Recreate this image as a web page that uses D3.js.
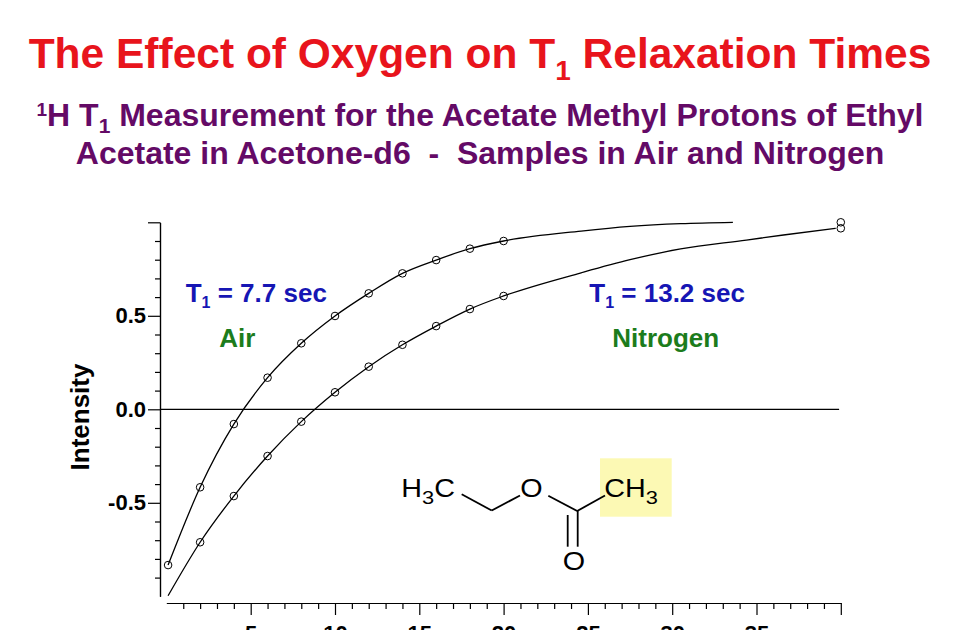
<!DOCTYPE html>
<html>
<head>
<meta charset="utf-8">
<script src="https://cdn.jsdelivr.net/npm/d3@7"></script>
<style>
    body { margin: 0; background: #fff; }
    svg { display: block; font-family: "Liberation Sans", Arial, Helvetica, sans-serif; }
    text { white-space: pre; }
</style>
</head>
<body>
<svg id="plot" width="960" height="630"></svg>
<script>
'use strict';

// measured points (time in seconds, normalised intensity)
const airTime = [0.1, 2, 4, 6, 8, 10, 12, 14, 16, 18, 20, 40];
const airIntensity = [-0.833, -0.417, -0.079, 0.169, 0.353, 0.499, 0.620, 0.727, 0.798, 0.859, 0.900, 1.0];
const nitrogenTime = [2, 4, 6, 8, 10, 12, 14, 16, 18, 20, 40];
const nitrogenIntensity = [-0.711, -0.464, -0.250, -0.066, 0.091, 0.228, 0.345, 0.445, 0.536, 0.606, 0.968];

// fitted curves
const airFitTime = [0.1, 2, 4, 6, 8, 10, 12, 14, 16, 18, 20, 24.6, 27.5, 30.5, 33.6];
const airFitIntensity = [-0.833, -0.417, -0.079, 0.169, 0.353, 0.499, 0.620, 0.727, 0.798, 0.859, 0.900, 0.953, 0.978, 0.993, 1.0];
const nitrogenFitTime = [0.1, 2, 4, 6, 8, 10, 12, 14, 16, 18, 20, 24.6, 27.5, 30.5, 34.4, 36.6, 39.7];
const nitrogenFitIntensity = [-0.997, -0.711, -0.464, -0.250, -0.066, 0.091, 0.228, 0.345, 0.445, 0.536, 0.606, 0.73, 0.80, 0.858, 0.905, 0.932, 0.968];

const xMajorTicks = [5, 10, 15, 20, 25, 30, 35, 40];
const xLabelTicks = [5, 10, 15, 20, 25, 30, 35];
const yMajorTicks = [-0.5, 0, 0.5, 1.0];
const yLabelTicks = [-0.5, 0, 0.5];

const font = '"Liberation Sans", Arial, Helvetica, sans-serif';
const svg = d3.select('#plot');

const xScale = d3.scaleLinear().domain([0, 40]).range([166.4, 840.8]);
const yScale = d3.scaleLinear().domain([-1, 1]).range([596.3, 222.3]);

function zip(xs, ys) {
    return xs.map((x, i) => [x, ys[i]]);
}

function renderTitles() {
    const title = svg.append('text')
        .attr('x', 480).attr('y', 68)
        .attr('text-anchor', 'middle')
        .attr('font-size', 42.5).attr('font-weight', 'bold')
        .attr('fill', '#e8141c');
    title.append('tspan').text('The Effect of Oxygen on T');
    title.append('tspan').attr('font-size', 28).attr('dy', 12).text('1');
    title.append('tspan').attr('dy', -12).text(' Relaxation Times');

    const sub1 = svg.append('text')
        .attr('x', 480).attr('y', 126)
        .attr('text-anchor', 'middle')
        .attr('font-size', 32).attr('font-weight', 'bold')
        .attr('fill', '#640a66');
    sub1.append('tspan').attr('font-size', 19).attr('dy', -10).text('1');
    sub1.append('tspan').attr('dy', 10).text('H T');
    sub1.append('tspan').attr('font-size', 21).attr('dy', 7).text('1');
    sub1.append('tspan').attr('dy', -7).text(' Measurement for the Acetate Methyl Protons of Ethyl');

    svg.append('text')
        .attr('x', 480).attr('y', 164)
        .attr('text-anchor', 'middle')
        .attr('font-size', 32).attr('font-weight', 'bold')
        .attr('fill', '#640a66')
        .text('Acetate in Acetone-d6  -  Samples in Air and Nitrogen');
}

function renderXAxis() {
    const g = svg.append('g')
        .attr('id', 'x-axis')
        .attr('transform', 'translate(0, 603)');

    g.append('g')
        .call(d3.axisBottom(xScale)
            .tickValues(d3.range(1, 40).filter(t => t % 5 !== 0))
            .tickSize(6).tickSizeOuter(0).tickFormat(''));

    g.append('g')
        .call(d3.axisBottom(xScale)
            .tickValues(xMajorTicks)
            .tickSize(12).tickSizeOuter(0).tickPadding(10)
            .tickFormat(d => xLabelTicks.includes(d) ? d : ''));

    g.selectAll('path, line').attr('stroke', '#000').attr('stroke-width', 1.2);
    g.selectAll('text')
        .attr('font-family', font).attr('font-size', 22)
        .attr('font-weight', 'bold').attr('fill', '#000');
}

function renderYAxis() {
    const g = svg.append('g')
        .attr('id', 'y-axis')
        .attr('transform', 'translate(160, 0)');

    g.append('g')
        .call(d3.axisLeft(yScale)
            .tickValues(d3.range(-9, 10).filter(v => v % 5 !== 0).map(v => v / 10))
            .tickSize(5).tickSizeOuter(0).tickFormat(''));

    g.append('g')
        .call(d3.axisLeft(yScale)
            .tickValues(yMajorTicks)
            .tickSize(12).tickSizeOuter(0).tickPadding(2)
            .tickFormat(d => yLabelTicks.includes(d) ? d.toFixed(1) : ''));

    g.selectAll('path, line').attr('stroke', '#000').attr('stroke-width', 1.2);
    g.selectAll('text')
        .attr('font-family', font).attr('font-size', 22)
        .attr('font-weight', 'bold').attr('fill', '#000');

    svg.append('text')
        .attr('transform', 'translate(89, 417) rotate(-90)')
        .attr('text-anchor', 'middle')
        .attr('font-size', 26).attr('font-weight', 'bold')
        .text('Intensity');
}

function renderZeroLine() {
    svg.append('line')
        .attr('x1', 160).attr('x2', xScale(39.9))
        .attr('y1', yScale(0)).attr('y2', yScale(0))
        .attr('stroke', '#000').attr('stroke-width', 1.2);
}

function renderSeries(fitT, fitV, t, v) {
    const line = d3.line()
        .x(d => xScale(d[0]))
        .y(d => yScale(d[1]))
        .curve(d3.curveMonotoneX);

    svg.append('path')
        .datum(zip(fitT, fitV))
        .attr('d', line)
        .attr('fill', 'none')
        .attr('stroke', '#000')
        .attr('stroke-width', 1.3);

    svg.append('g')
        .selectAll('circle')
        .data(zip(t, v))
        .enter()
        .append('circle')
        .attr('cx', d => xScale(d[0]))
        .attr('cy', d => yScale(d[1]))
        .attr('r', 3.8)
        .attr('fill', 'none')
        .attr('stroke', '#000')
        .attr('stroke-width', 1);
}

function renderLabel(x, value, name) {
    const t1 = svg.append('text')
        .attr('x', x).attr('y', 301.7)
        .attr('font-size', 26).attr('font-weight', 'bold')
        .attr('fill', '#1616b4');
    t1.append('tspan').text('T');
    t1.append('tspan').attr('font-size', 16).attr('dy', 6.5).text('1');
    t1.append('tspan').attr('dy', -6.5).text(` = ${value} sec`);

    svg.append('text')
        .attr('x', name.x).attr('y', 346.7)
        .attr('font-size', 26).attr('font-weight', 'bold')
        .attr('fill', '#1c7c1c')
        .text(name.text);
}

function renderMolecule() {
    const g = svg.append('g').attr('id', 'molecule');

    g.append('rect')
        .attr('x', 600).attr('y', 458.3)
        .attr('width', 71.7).attr('height', 58.4)
        .attr('fill', '#fcf9b4');

    const bonds = [
        [461.7, 494.3, 491.7, 510.5],
        [491.7, 510.5, 520, 495.5],
        [548.3, 495.7, 577.2, 511],
        [577.2, 511, 605, 495.5],
        [567.7, 515, 567.7, 546.7],
        [577.7, 511, 577.7, 546.7]
    ];
    g.selectAll('line')
        .data(bonds)
        .enter()
        .append('line')
        .attr('x1', d => d[0]).attr('y1', d => d[1])
        .attr('x2', d => d[2]).attr('y2', d => d[3])
        .attr('stroke', '#000').attr('stroke-width', 1.8);

    function atom(x, y, anchor, parts) {
        const t = g.append('text')
            .attr('transform', `translate(${x}, ${y}) scale(1.15, 1)`)
            .attr('text-anchor', anchor)
            .attr('font-size', 25)
            .attr('fill', '#000');
        parts.forEach(([s, sub], i) => {
            if (sub) {
                t.append('tspan').attr('font-size', 19).attr('dy', 7.6).text(s);
            } else {
                t.append('tspan').attr('dy', i && parts[i - 1][1] ? -7.6 : 0).text(s);
            }
        });
    }

    atom(401.2, 496.7, 'start', [['H'], ['3', true], ['C']]);
    atom(531.3, 496.7, 'middle', [['O']]);
    atom(604.2, 496.7, 'start', [['CH'], ['3', true]]);
    atom(573.8, 570, 'middle', [['O']]);
}

renderTitles();
renderZeroLine();
renderSeries(airFitTime, airFitIntensity, airTime, airIntensity);
renderSeries(nitrogenFitTime, nitrogenFitIntensity, nitrogenTime, nitrogenIntensity);
renderXAxis();
renderYAxis();
renderLabel(185.7, '7.7', { x: 219.3, text: 'Air' });
renderLabel(589.3, '13.2', { x: 612.3, text: 'Nitrogen' });
renderMolecule();
</script>
</body>
</html>
